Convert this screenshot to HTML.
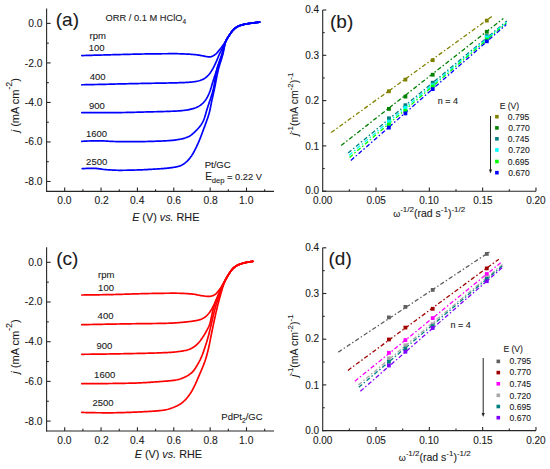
<!DOCTYPE html>
<html><head><meta charset="utf-8"><style>
html,body{margin:0;padding:0;background:#fff;overflow:hidden;width:550px;height:469px}
svg{display:block}
text{font-family:"Liberation Sans",sans-serif}
</style></head><body>
<svg width="550" height="469" viewBox="0 0 550 469">
<rect width="550" height="469" fill="#fff"/>
<line x1="46.60" y1="8.38" x2="46.60" y2="191.91" stroke="#262626" stroke-width="1.1" />
<line x1="46.05" y1="191.36" x2="274.00" y2="191.36" stroke="#262626" stroke-width="1.1" />
<line x1="46.60" y1="23.40" x2="50.60" y2="23.40" stroke="#262626" stroke-width="1.1" />
<line x1="46.60" y1="62.92" x2="50.60" y2="62.92" stroke="#262626" stroke-width="1.1" />
<line x1="46.60" y1="102.44" x2="50.60" y2="102.44" stroke="#262626" stroke-width="1.1" />
<line x1="46.60" y1="141.96" x2="50.60" y2="141.96" stroke="#262626" stroke-width="1.1" />
<line x1="46.60" y1="181.48" x2="50.60" y2="181.48" stroke="#262626" stroke-width="1.1" />
<line x1="46.60" y1="43.16" x2="48.80" y2="43.16" stroke="#262626" stroke-width="1.1" />
<line x1="46.60" y1="82.68" x2="48.80" y2="82.68" stroke="#262626" stroke-width="1.1" />
<line x1="46.60" y1="122.20" x2="48.80" y2="122.20" stroke="#262626" stroke-width="1.1" />
<line x1="46.60" y1="161.72" x2="48.80" y2="161.72" stroke="#262626" stroke-width="1.1" />
<line x1="64.70" y1="191.36" x2="64.70" y2="187.56" stroke="#262626" stroke-width="1.1" />
<line x1="101.06" y1="191.36" x2="101.06" y2="187.56" stroke="#262626" stroke-width="1.1" />
<line x1="137.42" y1="191.36" x2="137.42" y2="187.56" stroke="#262626" stroke-width="1.1" />
<line x1="173.78" y1="191.36" x2="173.78" y2="187.56" stroke="#262626" stroke-width="1.1" />
<line x1="210.14" y1="191.36" x2="210.14" y2="187.56" stroke="#262626" stroke-width="1.1" />
<line x1="246.50" y1="191.36" x2="246.50" y2="187.56" stroke="#262626" stroke-width="1.1" />
<line x1="82.88" y1="191.36" x2="82.88" y2="189.16" stroke="#262626" stroke-width="1.1" />
<line x1="119.24" y1="191.36" x2="119.24" y2="189.16" stroke="#262626" stroke-width="1.1" />
<line x1="155.60" y1="191.36" x2="155.60" y2="189.16" stroke="#262626" stroke-width="1.1" />
<line x1="191.96" y1="191.36" x2="191.96" y2="189.16" stroke="#262626" stroke-width="1.1" />
<line x1="228.32" y1="191.36" x2="228.32" y2="189.16" stroke="#262626" stroke-width="1.1" />
<line x1="264.68" y1="191.36" x2="264.68" y2="189.16" stroke="#262626" stroke-width="1.1" />
<path d="M81.80,55.58 L82.40,55.56 L83.17,55.54 L84.06,55.51 L85.02,55.48 L86.01,55.45 L87.01,55.42 L88.01,55.39 L89.02,55.37 L90.02,55.34 L91.02,55.31 L92.02,55.28 L93.02,55.25 L94.03,55.22 L95.03,55.20 L96.03,55.17 L97.03,55.14 L98.03,55.11 L99.04,55.09 L100.04,55.06 L101.04,55.03 L102.04,55.01 L103.04,54.98 L104.05,54.95 L105.05,54.93 L106.05,54.90 L107.05,54.87 L108.06,54.85 L109.06,54.82 L110.06,54.80 L111.06,54.77 L112.06,54.75 L113.07,54.72 L114.07,54.70 L115.07,54.67 L116.07,54.64 L117.07,54.62 L118.08,54.59 L119.08,54.56 L120.08,54.54 L121.08,54.51 L122.08,54.49 L123.09,54.46 L124.09,54.43 L125.09,54.41 L126.09,54.38 L127.10,54.36 L128.10,54.33 L129.10,54.31 L130.10,54.28 L131.10,54.26 L132.11,54.23 L133.11,54.21 L134.11,54.19 L135.11,54.16 L136.11,54.14 L137.12,54.12 L138.12,54.10 L139.12,54.08 L140.12,54.06 L141.13,54.04 L142.13,54.02 L143.13,54.00 L144.13,53.98 L145.14,53.97 L146.14,53.95 L147.14,53.94 L148.14,53.92 L149.14,53.91 L150.15,53.90 L151.15,53.89 L152.15,53.88 L153.15,53.86 L154.16,53.85 L155.16,53.84 L156.16,53.83 L157.16,53.82 L158.17,53.81 L159.17,53.80 L160.17,53.79 L161.17,53.78 L162.18,53.77 L163.18,53.76 L164.18,53.75 L165.18,53.74 L166.19,53.74 L167.19,53.73 L168.19,53.72 L169.19,53.72 L170.19,53.71 L171.20,53.71 L172.20,53.71 L173.20,53.70 L174.20,53.70 L175.21,53.71 L176.21,53.71 L177.21,53.72 L178.21,53.74 L179.22,53.76 L180.22,53.78 L181.22,53.81 L182.22,53.85 L183.22,53.89 L184.23,53.93 L185.23,53.98 L186.23,54.03 L187.23,54.08 L188.23,54.14 L189.23,54.20 L190.23,54.27 L191.23,54.33 L192.23,54.40 L193.23,54.48 L194.23,54.56 L195.23,54.66 L196.22,54.77 L197.21,54.90 L198.20,55.05 L199.19,55.21 L200.18,55.39 L201.16,55.58 L202.15,55.77 L203.13,55.95 L204.12,56.14 L205.10,56.32 L206.09,56.50 L207.07,56.66 L208.06,56.79 L209.04,56.85 L210.02,56.82 L210.98,56.67 L211.91,56.41 L212.81,56.04 L213.68,55.57 L214.51,55.03 L215.30,54.43 L216.05,53.78 L216.75,53.09 L217.43,52.35 L218.08,51.59 L218.72,50.82 L219.35,50.04 L219.98,49.26 L220.61,48.48 L221.22,47.69 L221.83,46.90 L222.43,46.09 L223.01,45.28 L223.58,44.45 L224.14,43.62 L224.69,42.78 L225.22,41.93 L225.75,41.08 L226.27,40.23 L226.79,39.37 L227.31,38.51 L227.82,37.65 L228.34,36.79 L228.87,35.94 L229.41,35.09 L229.96,34.25 L230.51,33.42 L231.09,32.60 L231.68,31.80 L232.31,31.02 L232.96,30.26 L233.65,29.54 L234.37,28.85 L235.13,28.21 L235.92,27.61 L236.76,27.07 L237.62,26.58 L238.52,26.15 L239.43,25.76 L240.37,25.41 L241.32,25.09 L242.28,24.82 L243.25,24.57 L244.22,24.34 L245.20,24.13 L246.19,23.94 L247.18,23.77 L248.16,23.61 L249.15,23.45 L250.15,23.30 L251.14,23.16 L252.13,23.03 L253.13,22.90 L254.12,22.77 L255.11,22.65 L256.10,22.54 L257.08,22.43 L258.00,22.34 L258.84,22.26 L259.53,22.19" fill="none" stroke="#0000FF" stroke-width="1.7" stroke-linejoin="round" stroke-linecap="round"/>
<path d="M81.80,84.78 L82.40,84.77 L83.17,84.76 L84.06,84.74 L85.02,84.72 L86.01,84.70 L87.01,84.68 L88.01,84.66 L89.01,84.64 L90.01,84.62 L91.01,84.60 L92.02,84.58 L93.02,84.56 L94.02,84.54 L95.02,84.52 L96.02,84.50 L97.02,84.48 L98.02,84.46 L99.02,84.43 L100.03,84.41 L101.03,84.39 L102.03,84.37 L103.03,84.34 L104.03,84.32 L105.03,84.30 L106.03,84.28 L107.03,84.25 L108.04,84.23 L109.04,84.20 L110.04,84.18 L111.04,84.15 L112.04,84.13 L113.04,84.10 L114.04,84.07 L115.04,84.05 L116.05,84.02 L117.05,84.00 L118.05,83.97 L119.05,83.94 L120.05,83.92 L121.05,83.89 L122.05,83.87 L123.05,83.85 L124.06,83.82 L125.06,83.80 L126.06,83.78 L127.06,83.76 L128.06,83.73 L129.06,83.71 L130.06,83.69 L131.07,83.67 L132.07,83.65 L133.07,83.63 L134.07,83.61 L135.07,83.59 L136.07,83.57 L137.07,83.55 L138.07,83.53 L139.08,83.51 L140.08,83.49 L141.08,83.47 L142.08,83.45 L143.08,83.43 L144.08,83.41 L145.08,83.39 L146.09,83.37 L147.09,83.35 L148.09,83.34 L149.09,83.32 L150.09,83.30 L151.09,83.28 L152.09,83.26 L153.10,83.25 L154.10,83.23 L155.10,83.21 L156.10,83.19 L157.10,83.18 L158.10,83.16 L159.10,83.15 L160.11,83.13 L161.11,83.11 L162.11,83.10 L163.11,83.08 L164.11,83.06 L165.11,83.04 L166.11,83.03 L167.12,83.01 L168.12,82.99 L169.12,82.97 L170.12,82.95 L171.12,82.93 L172.12,82.91 L173.12,82.89 L174.12,82.86 L175.13,82.84 L176.13,82.81 L177.13,82.79 L178.13,82.76 L179.13,82.72 L180.13,82.69 L181.13,82.65 L182.13,82.62 L183.13,82.57 L184.13,82.53 L185.13,82.48 L186.13,82.43 L187.13,82.37 L188.13,82.31 L189.13,82.24 L190.13,82.17 L191.13,82.08 L192.13,81.98 L193.12,81.87 L194.11,81.74 L195.10,81.59 L196.09,81.42 L197.07,81.22 L198.04,81.00 L199.01,80.75 L199.97,80.47 L200.92,80.16 L201.85,79.80 L202.76,79.40 L203.64,78.95 L204.50,78.44 L205.33,77.89 L206.12,77.29 L206.87,76.64 L207.59,75.95 L208.28,75.23 L208.94,74.48 L209.57,73.71 L210.18,72.91 L210.76,72.10 L211.32,71.27 L211.85,70.42 L212.37,69.56 L212.86,68.69 L213.33,67.81 L213.79,66.92 L214.23,66.03 L214.67,65.12 L215.09,64.21 L215.51,63.30 L215.92,62.39 L216.32,61.47 L216.72,60.56 L217.12,59.64 L217.51,58.71 L217.90,57.79 L218.28,56.87 L218.67,55.94 L219.06,55.02 L219.46,54.11 L219.89,53.20 L220.33,52.31 L220.80,51.42 L221.28,50.54 L221.76,49.67 L222.23,48.78 L222.68,47.89 L223.11,46.99 L223.53,46.08 L223.93,45.16 L224.33,44.24 L224.74,43.33 L225.16,42.42 L225.60,41.52 L226.06,40.63 L226.54,39.75 L227.04,38.89 L227.55,38.03 L228.07,37.17 L228.61,36.33 L229.15,35.48 L229.69,34.64 L230.25,33.81 L230.81,32.99 L231.40,32.18 L232.01,31.38 L232.65,30.62 L233.32,29.88 L234.02,29.17 L234.76,28.51 L235.54,27.89 L236.35,27.32 L237.20,26.81 L238.08,26.35 L238.99,25.94 L239.92,25.57 L240.86,25.24 L241.81,24.95 L242.78,24.68 L243.75,24.45 L244.73,24.23 L245.71,24.04 L246.69,23.85 L247.68,23.68 L248.67,23.53 L249.66,23.37 L250.65,23.23 L251.64,23.09 L252.64,22.96 L253.63,22.83 L254.62,22.71 L255.61,22.59 L256.60,22.48 L257.55,22.38 L258.44,22.29 L259.21,22.22 L259.81,22.17" fill="none" stroke="#0000FF" stroke-width="1.7" stroke-linejoin="round" stroke-linecap="round"/>
<path d="M81.80,112.60 L82.40,112.60 L83.17,112.60 L84.06,112.60 L85.02,112.60 L86.01,112.60 L87.01,112.60 L88.01,112.60 L89.02,112.60 L90.02,112.60 L91.02,112.60 L92.02,112.60 L93.02,112.60 L94.03,112.60 L95.03,112.60 L96.03,112.60 L97.03,112.60 L98.03,112.60 L99.04,112.60 L100.04,112.60 L101.04,112.60 L102.04,112.60 L103.04,112.60 L104.05,112.60 L105.05,112.60 L106.05,112.60 L107.05,112.60 L108.05,112.60 L109.06,112.60 L110.06,112.60 L111.06,112.60 L112.06,112.60 L113.06,112.60 L114.07,112.60 L115.07,112.59 L116.07,112.59 L117.07,112.58 L118.07,112.58 L119.08,112.57 L120.08,112.56 L121.08,112.55 L122.08,112.53 L123.08,112.52 L124.09,112.50 L125.09,112.48 L126.09,112.47 L127.09,112.45 L128.09,112.43 L129.09,112.40 L130.10,112.38 L131.10,112.36 L132.10,112.34 L133.10,112.31 L134.10,112.29 L135.11,112.26 L136.11,112.24 L137.11,112.21 L138.11,112.18 L139.11,112.16 L140.11,112.13 L141.11,112.10 L142.12,112.08 L143.12,112.05 L144.12,112.02 L145.12,112.00 L146.12,111.97 L147.12,111.95 L148.13,111.92 L149.13,111.90 L150.13,111.87 L151.13,111.85 L152.13,111.82 L153.14,111.80 L154.14,111.77 L155.14,111.75 L156.14,111.73 L157.14,111.70 L158.14,111.68 L159.15,111.65 L160.15,111.63 L161.15,111.60 L162.15,111.57 L163.15,111.54 L164.15,111.51 L165.16,111.48 L166.16,111.45 L167.16,111.42 L168.16,111.38 L169.16,111.35 L170.16,111.31 L171.16,111.27 L172.16,111.23 L173.17,111.19 L174.17,111.15 L175.17,111.10 L176.17,111.05 L177.17,111.00 L178.17,110.94 L179.17,110.87 L180.17,110.79 L181.17,110.71 L182.16,110.62 L183.16,110.52 L184.16,110.40 L185.15,110.28 L186.14,110.14 L187.13,109.99 L188.12,109.81 L189.10,109.62 L190.08,109.41 L191.05,109.18 L192.02,108.93 L192.98,108.66 L193.94,108.36 L194.89,108.04 L195.82,107.68 L196.74,107.29 L197.64,106.86 L198.52,106.39 L199.38,105.89 L200.22,105.34 L201.03,104.76 L201.81,104.14 L202.56,103.48 L203.27,102.79 L203.95,102.06 L204.59,101.29 L205.20,100.50 L205.78,99.69 L206.32,98.85 L206.84,98.00 L207.34,97.13 L207.81,96.24 L208.25,95.34 L208.67,94.44 L209.07,93.52 L209.44,92.59 L209.81,91.66 L210.15,90.72 L210.47,89.77 L210.77,88.81 L211.07,87.86 L211.35,86.89 L211.62,85.93 L211.89,84.97 L212.17,84.00 L212.46,83.04 L212.75,82.09 L213.05,81.13 L213.36,80.18 L213.67,79.23 L213.99,78.28 L214.31,77.33 L214.63,76.38 L214.95,75.43 L215.27,74.48 L215.59,73.53 L215.90,72.58 L216.22,71.62 L216.53,70.67 L216.85,69.72 L217.16,68.77 L217.48,67.82 L217.80,66.87 L218.11,65.92 L218.43,64.97 L218.75,64.02 L219.08,63.07 L219.41,62.13 L219.74,61.18 L220.08,60.24 L220.43,59.30 L220.77,58.36 L221.11,57.42 L221.45,56.47 L221.79,55.53 L222.11,54.58 L222.42,53.63 L222.72,52.67 L223.00,51.71 L223.26,50.74 L223.51,49.77 L223.74,48.80 L223.97,47.82 L224.20,46.85 L224.43,45.87 L224.66,44.90 L224.92,43.93 L225.20,42.97 L225.51,42.03 L225.87,41.10 L226.28,40.19 L226.74,39.30 L227.23,38.43 L227.75,37.58 L228.30,36.74 L228.85,35.90 L229.40,35.07 L229.96,34.24 L230.52,33.41 L231.09,32.59 L231.69,31.79 L232.31,31.01 L232.97,30.25 L233.66,29.53 L234.38,28.84 L235.14,28.20 L235.93,27.61 L236.76,27.07 L237.63,26.58 L238.53,26.14 L239.44,25.75 L240.38,25.40 L241.33,25.09 L242.29,24.81 L243.26,24.56 L244.23,24.34 L245.21,24.13 L246.19,23.94 L247.18,23.77 L248.17,23.60 L249.16,23.45 L250.15,23.30 L251.14,23.16 L252.13,23.03 L253.13,22.90 L254.12,22.77 L255.12,22.65 L256.10,22.54 L257.08,22.43 L258.01,22.34 L258.84,22.26 L259.53,22.19" fill="none" stroke="#0000FF" stroke-width="1.7" stroke-linejoin="round" stroke-linecap="round"/>
<path d="M81.80,141.35 L82.39,141.31 L83.16,141.27 L84.06,141.22 L85.01,141.16 L86.00,141.11 L87.00,141.07 L88.00,141.02 L89.00,140.98 L90.00,140.95 L91.00,140.92 L92.00,140.89 L93.00,140.87 L94.00,140.85 L95.00,140.83 L96.00,140.82 L97.00,140.81 L98.00,140.81 L99.00,140.82 L100.01,140.83 L101.01,140.85 L102.01,140.88 L103.01,140.92 L104.01,140.96 L105.01,141.01 L106.01,141.06 L107.01,141.11 L108.01,141.17 L109.00,141.23 L110.00,141.28 L111.00,141.34 L112.00,141.39 L113.00,141.44 L114.00,141.48 L115.00,141.52 L116.00,141.55 L117.00,141.57 L118.01,141.58 L119.01,141.59 L120.01,141.60 L121.01,141.60 L122.01,141.60 L123.01,141.60 L124.01,141.60 L125.01,141.60 L126.01,141.60 L127.01,141.60 L128.02,141.60 L129.02,141.60 L130.02,141.60 L131.02,141.60 L132.02,141.60 L133.02,141.60 L134.02,141.60 L135.02,141.60 L136.02,141.60 L137.02,141.60 L138.03,141.60 L139.03,141.60 L140.03,141.59 L141.03,141.59 L142.03,141.58 L143.03,141.57 L144.03,141.55 L145.03,141.54 L146.03,141.52 L147.03,141.49 L148.03,141.47 L149.03,141.44 L150.04,141.42 L151.04,141.39 L152.04,141.36 L153.04,141.32 L154.04,141.29 L155.04,141.26 L156.04,141.22 L157.04,141.19 L158.04,141.15 L159.04,141.11 L160.04,141.08 L161.04,141.04 L162.04,141.00 L163.04,140.95 L164.04,140.91 L165.04,140.86 L166.04,140.80 L167.04,140.74 L168.04,140.68 L169.04,140.61 L170.03,140.54 L171.03,140.46 L172.03,140.38 L173.03,140.28 L174.02,140.17 L175.01,140.04 L176.00,139.91 L176.99,139.76 L177.98,139.60 L178.97,139.43 L179.95,139.24 L180.93,139.04 L181.91,138.82 L182.88,138.59 L183.85,138.33 L184.81,138.06 L185.76,137.75 L186.70,137.42 L187.63,137.05 L188.53,136.64 L189.41,136.18 L190.26,135.66 L191.08,135.10 L191.87,134.49 L192.64,133.86 L193.39,133.20 L194.13,132.53 L194.87,131.85 L195.59,131.16 L196.30,130.46 L197.00,129.74 L197.68,129.01 L198.35,128.26 L199.00,127.50 L199.63,126.72 L200.24,125.93 L200.83,125.13 L201.39,124.30 L201.93,123.46 L202.43,122.60 L202.90,121.71 L203.33,120.82 L203.72,119.90 L204.09,118.97 L204.42,118.03 L204.73,117.08 L205.03,116.12 L205.31,115.16 L205.59,114.20 L205.87,113.24 L206.14,112.28 L206.42,111.31 L206.71,110.36 L207.00,109.40 L207.30,108.44 L207.60,107.49 L207.91,106.54 L208.23,105.59 L208.54,104.64 L208.86,103.69 L209.18,102.74 L209.49,101.79 L209.81,100.84 L210.12,99.89 L210.43,98.94 L210.74,97.99 L211.06,97.03 L211.37,96.08 L211.67,95.13 L211.98,94.18 L212.27,93.22 L212.56,92.26 L212.82,91.30 L213.08,90.33 L213.31,89.36 L213.52,88.38 L213.72,87.40 L213.91,86.41 L214.09,85.43 L214.26,84.44 L214.42,83.46 L214.58,82.47 L214.73,81.48 L214.89,80.49 L215.04,79.50 L215.20,78.51 L215.35,77.52 L215.51,76.53 L215.67,75.55 L215.84,74.56 L216.01,73.57 L216.20,72.59 L216.39,71.61 L216.60,70.63 L216.83,69.66 L217.07,68.68 L217.32,67.72 L217.60,66.75 L217.88,65.80 L218.18,64.84 L218.49,63.89 L218.82,62.94 L219.15,62.00 L219.48,61.06 L219.83,60.12 L220.17,59.17 L220.51,58.23 L220.85,57.29 L221.17,56.34 L221.49,55.40 L221.79,54.44 L222.09,53.49 L222.37,52.53 L222.64,51.56 L222.91,50.60 L223.17,49.63 L223.42,48.66 L223.68,47.70 L223.95,46.73 L224.22,45.77 L224.50,44.81 L224.80,43.85 L225.12,42.91 L225.48,41.98 L225.87,41.06 L226.30,40.16 L226.77,39.28 L227.27,38.41 L227.79,37.56 L228.33,36.72 L228.87,35.88 L229.42,35.04 L229.98,34.21 L230.54,33.38 L231.11,32.56 L231.71,31.76 L232.33,30.98 L232.99,30.23 L233.67,29.51 L234.40,28.83 L235.16,28.19 L235.95,27.59 L236.79,27.05 L237.65,26.57 L238.55,26.13 L239.46,25.74 L240.40,25.40 L241.35,25.09 L242.31,24.81 L243.27,24.56 L244.25,24.33 L245.23,24.13 L246.21,23.94 L247.19,23.77 L248.18,23.60 L249.17,23.45 L250.16,23.30 L251.15,23.16 L252.14,23.02 L253.14,22.89 L254.13,22.77 L255.12,22.65 L256.11,22.54 L257.08,22.43 L258.01,22.34 L258.84,22.26 L259.53,22.19" fill="none" stroke="#0000FF" stroke-width="1.7" stroke-linejoin="round" stroke-linecap="round"/>
<path d="M82.19,168.72 L82.79,168.67 L83.56,168.61 L84.45,168.55 L85.41,168.49 L86.39,168.44 L87.39,168.40 L88.39,168.37 L89.39,168.34 L90.39,168.33 L91.39,168.32 L92.40,168.31 L93.40,168.32 L94.40,168.34 L95.39,168.39 L96.39,168.45 L97.39,168.55 L98.38,168.66 L99.37,168.80 L100.36,168.94 L101.35,169.08 L102.34,169.22 L103.34,169.36 L104.33,169.47 L105.33,169.57 L106.32,169.66 L107.32,169.74 L108.32,169.82 L109.32,169.89 L110.32,169.95 L111.32,170.02 L112.32,170.08 L113.31,170.13 L114.31,170.17 L115.31,170.21 L116.32,170.24 L117.32,170.27 L118.32,170.28 L119.32,170.29 L120.32,170.29 L121.32,170.29 L122.32,170.28 L123.32,170.27 L124.32,170.26 L125.32,170.24 L126.33,170.23 L127.33,170.21 L128.33,170.19 L129.33,170.17 L130.33,170.15 L131.33,170.12 L132.33,170.10 L133.33,170.07 L134.33,170.04 L135.33,170.02 L136.33,169.99 L137.33,169.96 L138.34,169.93 L139.34,169.90 L140.34,169.86 L141.34,169.83 L142.34,169.78 L143.34,169.74 L144.34,169.69 L145.34,169.64 L146.34,169.59 L147.34,169.53 L148.34,169.47 L149.34,169.41 L150.34,169.36 L151.33,169.30 L152.33,169.24 L153.33,169.18 L154.33,169.12 L155.33,169.07 L156.33,169.01 L157.33,168.95 L158.33,168.89 L159.33,168.83 L160.33,168.76 L161.33,168.69 L162.33,168.62 L163.32,168.54 L164.32,168.46 L165.32,168.37 L166.32,168.28 L167.31,168.17 L168.31,168.06 L169.30,167.94 L170.29,167.82 L171.29,167.69 L172.28,167.55 L173.27,167.40 L174.25,167.24 L175.24,167.07 L176.22,166.88 L177.20,166.67 L178.17,166.43 L179.13,166.16 L180.07,165.84 L180.99,165.46 L181.88,165.03 L182.75,164.54 L183.59,164.01 L184.41,163.44 L185.21,162.84 L185.98,162.21 L186.72,161.54 L187.45,160.85 L188.14,160.14 L188.81,159.40 L189.46,158.64 L190.09,157.86 L190.69,157.06 L191.27,156.25 L191.83,155.42 L192.36,154.57 L192.87,153.71 L193.37,152.84 L193.85,151.97 L194.32,151.08 L194.78,150.19 L195.23,149.30 L195.68,148.41 L196.12,147.51 L196.56,146.61 L196.98,145.70 L197.40,144.79 L197.82,143.88 L198.22,142.97 L198.62,142.05 L199.02,141.13 L199.40,140.21 L199.79,139.28 L200.16,138.35 L200.53,137.42 L200.89,136.49 L201.25,135.55 L201.60,134.62 L201.95,133.68 L202.29,132.74 L202.64,131.80 L202.99,130.86 L203.34,129.92 L203.69,128.98 L204.04,128.05 L204.39,127.11 L204.74,126.17 L205.09,125.23 L205.44,124.29 L205.79,123.35 L206.13,122.41 L206.46,121.47 L206.80,120.53 L207.13,119.58 L207.45,118.64 L207.78,117.69 L208.09,116.74 L208.39,115.78 L208.69,114.83 L208.97,113.87 L209.23,112.90 L209.48,111.93 L209.72,110.96 L209.94,109.98 L210.15,109.00 L210.35,108.02 L210.54,107.04 L210.74,106.06 L210.93,105.08 L211.12,104.09 L211.32,103.11 L211.52,102.13 L211.72,101.15 L211.93,100.17 L212.14,99.19 L212.36,98.22 L212.58,97.24 L212.80,96.26 L213.02,95.29 L213.24,94.31 L213.46,93.33 L213.68,92.36 L213.89,91.38 L214.11,90.40 L214.31,89.42 L214.52,88.44 L214.71,87.46 L214.91,86.48 L215.10,85.50 L215.29,84.51 L215.48,83.53 L215.67,82.55 L215.85,81.56 L216.04,80.58 L216.23,79.59 L216.41,78.61 L216.60,77.63 L216.79,76.65 L216.99,75.66 L217.19,74.68 L217.39,73.70 L217.60,72.72 L217.82,71.75 L218.04,70.77 L218.28,69.80 L218.52,68.83 L218.78,67.86 L219.05,66.90 L219.32,65.93 L219.61,64.98 L219.91,64.02 L220.21,63.06 L220.52,62.11 L220.83,61.16 L221.13,60.21 L221.43,59.25 L221.73,58.29 L222.02,57.34 L222.29,56.37 L222.55,55.41 L222.80,54.44 L223.04,53.47 L223.26,52.49 L223.47,51.51 L223.67,50.53 L223.86,49.55 L224.04,48.56 L224.23,47.58 L224.42,46.60 L224.62,45.62 L224.83,44.64 L225.07,43.67 L225.33,42.71 L225.64,41.76 L225.99,40.83 L226.40,39.93 L226.86,39.04 L227.36,38.18 L227.89,37.34 L228.44,36.50 L229.00,35.67 L229.55,34.83 L230.11,34.00 L230.68,33.18 L231.26,32.37 L231.86,31.57 L232.49,30.80 L233.15,30.05 L233.85,29.34 L234.58,28.66 L235.35,28.03 L236.15,27.46 L237.00,26.93 L237.87,26.46 L238.77,26.03 L239.69,25.65 L240.63,25.32 L241.58,25.01 L242.54,24.74 L243.51,24.50 L244.49,24.28 L245.47,24.08 L246.45,23.90 L247.44,23.72 L248.43,23.56 L249.42,23.41 L250.41,23.27 L251.40,23.13 L252.39,22.99 L253.38,22.86 L254.38,22.74 L255.37,22.62 L256.35,22.51 L257.32,22.41 L258.23,22.32 L259.03,22.24 L259.67,22.18" fill="none" stroke="#0000FF" stroke-width="1.7" stroke-linejoin="round" stroke-linecap="round"/>
<line x1="46.60" y1="247.21" x2="46.60" y2="431.58" stroke="#262626" stroke-width="1.1" />
<line x1="46.05" y1="431.03" x2="274.00" y2="431.03" stroke="#262626" stroke-width="1.1" />
<line x1="46.60" y1="262.30" x2="50.60" y2="262.30" stroke="#262626" stroke-width="1.1" />
<line x1="46.60" y1="302.00" x2="50.60" y2="302.00" stroke="#262626" stroke-width="1.1" />
<line x1="46.60" y1="341.70" x2="50.60" y2="341.70" stroke="#262626" stroke-width="1.1" />
<line x1="46.60" y1="381.40" x2="50.60" y2="381.40" stroke="#262626" stroke-width="1.1" />
<line x1="46.60" y1="421.10" x2="50.60" y2="421.10" stroke="#262626" stroke-width="1.1" />
<line x1="46.60" y1="282.15" x2="48.80" y2="282.15" stroke="#262626" stroke-width="1.1" />
<line x1="46.60" y1="321.85" x2="48.80" y2="321.85" stroke="#262626" stroke-width="1.1" />
<line x1="46.60" y1="361.55" x2="48.80" y2="361.55" stroke="#262626" stroke-width="1.1" />
<line x1="46.60" y1="401.25" x2="48.80" y2="401.25" stroke="#262626" stroke-width="1.1" />
<line x1="64.70" y1="431.03" x2="64.70" y2="427.23" stroke="#262626" stroke-width="1.1" />
<line x1="101.06" y1="431.03" x2="101.06" y2="427.23" stroke="#262626" stroke-width="1.1" />
<line x1="137.42" y1="431.03" x2="137.42" y2="427.23" stroke="#262626" stroke-width="1.1" />
<line x1="173.78" y1="431.03" x2="173.78" y2="427.23" stroke="#262626" stroke-width="1.1" />
<line x1="210.14" y1="431.03" x2="210.14" y2="427.23" stroke="#262626" stroke-width="1.1" />
<line x1="246.50" y1="431.03" x2="246.50" y2="427.23" stroke="#262626" stroke-width="1.1" />
<line x1="82.88" y1="431.03" x2="82.88" y2="428.83" stroke="#262626" stroke-width="1.1" />
<line x1="119.24" y1="431.03" x2="119.24" y2="428.83" stroke="#262626" stroke-width="1.1" />
<line x1="155.60" y1="431.03" x2="155.60" y2="428.83" stroke="#262626" stroke-width="1.1" />
<line x1="191.96" y1="431.03" x2="191.96" y2="428.83" stroke="#262626" stroke-width="1.1" />
<line x1="228.32" y1="431.03" x2="228.32" y2="428.83" stroke="#262626" stroke-width="1.1" />
<line x1="264.68" y1="431.03" x2="264.68" y2="428.83" stroke="#262626" stroke-width="1.1" />
<path d="M81.80,294.99 L82.40,294.99 L83.17,294.98 L84.06,294.97 L85.02,294.96 L86.01,294.95 L87.01,294.94 L88.01,294.93 L89.02,294.92 L90.02,294.91 L91.02,294.90 L92.02,294.88 L93.02,294.87 L94.03,294.86 L95.03,294.84 L96.03,294.83 L97.03,294.81 L98.03,294.80 L99.04,294.78 L100.04,294.77 L101.04,294.75 L102.04,294.74 L103.04,294.72 L104.04,294.70 L105.05,294.69 L106.05,294.67 L107.05,294.65 L108.05,294.63 L109.05,294.62 L110.06,294.60 L111.06,294.58 L112.06,294.56 L113.06,294.54 L114.06,294.51 L115.06,294.49 L116.07,294.46 L117.07,294.44 L118.07,294.41 L119.07,294.38 L120.07,294.35 L121.07,294.32 L122.08,294.29 L123.08,294.26 L124.08,294.23 L125.08,294.20 L126.08,294.17 L127.08,294.14 L128.09,294.10 L129.09,294.07 L130.09,294.04 L131.09,294.01 L132.09,293.97 L133.09,293.94 L134.09,293.91 L135.10,293.88 L136.10,293.85 L137.10,293.82 L138.10,293.79 L139.10,293.76 L140.10,293.73 L141.11,293.70 L142.11,293.67 L143.11,293.65 L144.11,293.62 L145.11,293.60 L146.11,293.58 L147.12,293.56 L148.12,293.54 L149.12,293.52 L150.12,293.50 L151.12,293.48 L152.13,293.46 L153.13,293.45 L154.13,293.43 L155.13,293.41 L156.13,293.40 L157.13,293.38 L158.14,293.37 L159.14,293.35 L160.14,293.33 L161.14,293.32 L162.14,293.31 L163.15,293.29 L164.15,293.28 L165.15,293.27 L166.15,293.26 L167.15,293.24 L168.16,293.24 L169.16,293.23 L170.16,293.22 L171.16,293.21 L172.16,293.21 L173.17,293.21 L174.17,293.21 L175.17,293.21 L176.17,293.21 L177.17,293.23 L178.18,293.24 L179.18,293.26 L180.18,293.29 L181.18,293.33 L182.18,293.37 L183.18,293.41 L184.18,293.46 L185.18,293.51 L186.18,293.58 L187.18,293.64 L188.18,293.71 L189.18,293.78 L190.18,293.86 L191.18,293.95 L192.18,294.04 L193.17,294.15 L194.17,294.27 L195.15,294.42 L196.14,294.60 L197.11,294.80 L198.09,295.02 L199.07,295.24 L200.05,295.44 L201.03,295.61 L202.02,295.77 L203.01,295.91 L204.01,296.03 L205.00,296.15 L206.00,296.24 L206.99,296.32 L207.99,296.37 L208.99,296.38 L209.98,296.33 L210.95,296.20 L211.91,295.98 L212.84,295.67 L213.74,295.27 L214.60,294.79 L215.41,294.23 L216.16,293.60 L216.87,292.91 L217.52,292.17 L218.14,291.39 L218.74,290.59 L219.33,289.77 L219.90,288.95 L220.47,288.13 L221.02,287.29 L221.57,286.45 L222.10,285.60 L222.62,284.75 L223.14,283.89 L223.64,283.02 L224.14,282.15 L224.63,281.28 L225.13,280.41 L225.62,279.54 L226.12,278.67 L226.62,277.80 L227.12,276.93 L227.63,276.07 L228.14,275.21 L228.67,274.36 L229.20,273.51 L229.75,272.67 L230.31,271.84 L230.89,271.03 L231.49,270.23 L232.11,269.45 L232.78,268.71 L233.49,268.02 L234.24,267.36 L235.03,266.76 L235.85,266.20 L236.71,265.69 L237.59,265.22 L238.49,264.80 L239.41,264.41 L240.34,264.05 L241.29,263.72 L242.24,263.42 L243.21,263.15 L244.17,262.89 L245.15,262.66 L246.13,262.45 L247.11,262.25 L248.09,262.07 L249.08,261.90 L250.05,261.75 L250.99,261.62 L251.85,261.51 L252.58,261.42" fill="none" stroke="#FF0000" stroke-width="1.7" stroke-linejoin="round" stroke-linecap="round"/>
<path d="M81.80,324.68 L82.40,324.67 L83.17,324.66 L84.06,324.64 L85.02,324.62 L86.01,324.60 L87.01,324.58 L88.01,324.56 L89.01,324.54 L90.01,324.52 L91.01,324.50 L92.01,324.48 L93.01,324.46 L94.01,324.44 L95.02,324.42 L96.02,324.40 L97.02,324.39 L98.02,324.37 L99.02,324.35 L100.02,324.33 L101.02,324.31 L102.02,324.29 L103.03,324.27 L104.03,324.25 L105.03,324.24 L106.03,324.22 L107.03,324.20 L108.03,324.18 L109.03,324.16 L110.03,324.14 L111.03,324.13 L112.04,324.11 L113.04,324.09 L114.04,324.07 L115.04,324.06 L116.04,324.04 L117.04,324.02 L118.04,324.00 L119.04,323.99 L120.04,323.97 L121.05,323.95 L122.05,323.93 L123.05,323.92 L124.05,323.90 L125.05,323.88 L126.05,323.87 L127.05,323.85 L128.05,323.83 L129.06,323.82 L130.06,323.80 L131.06,323.78 L132.06,323.77 L133.06,323.75 L134.06,323.74 L135.06,323.73 L136.06,323.71 L137.07,323.70 L138.07,323.69 L139.07,323.68 L140.07,323.67 L141.07,323.66 L142.07,323.64 L143.07,323.63 L144.07,323.62 L145.08,323.61 L146.08,323.60 L147.08,323.59 L148.08,323.58 L149.08,323.57 L150.08,323.56 L151.08,323.55 L152.08,323.53 L153.09,323.52 L154.09,323.51 L155.09,323.50 L156.09,323.48 L157.09,323.47 L158.09,323.45 L159.09,323.44 L160.09,323.42 L161.10,323.40 L162.10,323.38 L163.10,323.36 L164.10,323.34 L165.10,323.32 L166.10,323.30 L167.10,323.27 L168.10,323.25 L169.10,323.22 L170.10,323.18 L171.10,323.14 L172.10,323.09 L173.10,323.04 L174.10,322.97 L175.10,322.90 L176.10,322.82 L177.10,322.74 L178.10,322.66 L179.09,322.58 L180.09,322.49 L181.09,322.40 L182.09,322.32 L183.08,322.23 L184.08,322.13 L185.08,322.04 L186.07,321.94 L187.07,321.83 L188.07,321.72 L189.06,321.60 L190.05,321.48 L191.05,321.36 L192.04,321.22 L193.03,321.08 L194.02,320.93 L195.01,320.78 L195.99,320.60 L196.98,320.41 L197.95,320.20 L198.92,319.96 L199.88,319.68 L200.82,319.36 L201.74,318.99 L202.64,318.56 L203.51,318.08 L204.35,317.55 L205.17,316.97 L205.95,316.36 L206.69,315.70 L207.40,315.00 L208.07,314.26 L208.70,313.49 L209.31,312.70 L209.90,311.89 L210.47,311.07 L211.02,310.23 L211.54,309.38 L212.05,308.52 L212.54,307.65 L213.01,306.76 L213.46,305.87 L213.90,304.97 L214.31,304.06 L214.72,303.14 L215.11,302.22 L215.51,301.31 L215.92,300.39 L216.33,299.48 L216.76,298.57 L217.19,297.67 L217.63,296.77 L218.06,295.87 L218.49,294.96 L218.90,294.05 L219.31,293.14 L219.72,292.22 L220.12,291.31 L220.53,290.39 L220.93,289.48 L221.34,288.56 L221.76,287.65 L222.17,286.74 L222.59,285.83 L223.01,284.92 L223.44,284.02 L223.87,283.11 L224.30,282.21 L224.75,281.31 L225.20,280.42 L225.66,279.53 L226.13,278.65 L226.62,277.77 L227.11,276.90 L227.62,276.04 L228.14,275.18 L228.66,274.33 L229.20,273.49 L229.76,272.65 L230.32,271.83 L230.90,271.01 L231.50,270.21 L232.13,269.44 L232.79,268.70 L233.50,268.00 L234.25,267.35 L235.04,266.75 L235.86,266.20 L236.72,265.68 L237.60,265.22 L238.50,264.79 L239.42,264.40 L240.35,264.05 L241.30,263.72 L242.25,263.42 L243.21,263.14 L244.18,262.89 L245.15,262.66 L246.13,262.45 L247.11,262.25 L248.10,262.07 L249.08,261.90 L250.05,261.75 L250.99,261.62 L251.85,261.51 L252.58,261.42" fill="none" stroke="#FF0000" stroke-width="1.7" stroke-linejoin="round" stroke-linecap="round"/>
<path d="M81.80,354.30 L82.40,354.29 L83.17,354.29 L84.06,354.28 L85.02,354.27 L86.01,354.26 L87.01,354.26 L88.01,354.25 L89.01,354.24 L90.02,354.23 L91.02,354.22 L92.02,354.21 L93.02,354.20 L94.02,354.19 L95.02,354.18 L96.02,354.16 L97.03,354.15 L98.03,354.14 L99.03,354.13 L100.03,354.11 L101.03,354.10 L102.03,354.09 L103.04,354.07 L104.04,354.06 L105.04,354.04 L106.04,354.03 L107.04,354.01 L108.04,354.00 L109.05,353.98 L110.05,353.96 L111.05,353.95 L112.05,353.93 L113.05,353.91 L114.05,353.90 L115.05,353.88 L116.06,353.86 L117.06,353.84 L118.06,353.83 L119.06,353.81 L120.06,353.79 L121.06,353.77 L122.07,353.75 L123.07,353.73 L124.07,353.71 L125.07,353.70 L126.07,353.68 L127.07,353.66 L128.07,353.64 L129.08,353.62 L130.08,353.60 L131.08,353.58 L132.08,353.56 L133.08,353.54 L134.08,353.52 L135.09,353.50 L136.09,353.48 L137.09,353.46 L138.09,353.44 L139.09,353.42 L140.09,353.40 L141.09,353.38 L142.10,353.36 L143.10,353.33 L144.10,353.31 L145.10,353.29 L146.10,353.26 L147.10,353.24 L148.10,353.21 L149.11,353.19 L150.11,353.16 L151.11,353.13 L152.11,353.11 L153.11,353.08 L154.11,353.05 L155.11,353.01 L156.11,352.98 L157.12,352.95 L158.12,352.91 L159.12,352.88 L160.12,352.84 L161.12,352.80 L162.12,352.76 L163.12,352.72 L164.12,352.68 L165.12,352.63 L166.12,352.59 L167.12,352.54 L168.12,352.49 L169.12,352.44 L170.12,352.38 L171.12,352.32 L172.12,352.25 L173.12,352.17 L174.12,352.09 L175.12,351.99 L176.11,351.89 L177.11,351.78 L178.10,351.66 L179.10,351.53 L180.09,351.39 L181.08,351.25 L182.07,351.09 L183.06,350.92 L184.04,350.74 L185.02,350.54 L186.00,350.32 L186.96,350.07 L187.92,349.78 L188.87,349.46 L189.80,349.10 L190.72,348.71 L191.61,348.28 L192.49,347.80 L193.34,347.28 L194.16,346.72 L194.96,346.13 L195.74,345.50 L196.49,344.84 L197.23,344.16 L197.93,343.46 L198.62,342.73 L199.27,341.97 L199.90,341.20 L200.51,340.40 L201.10,339.59 L201.68,338.78 L202.24,337.95 L202.80,337.12 L203.35,336.28 L203.88,335.43 L204.41,334.58 L204.92,333.72 L205.43,332.86 L205.92,331.99 L206.41,331.11 L206.89,330.23 L207.37,329.35 L207.83,328.46 L208.28,327.57 L208.71,326.67 L209.10,325.75 L209.46,324.82 L209.78,323.87 L210.07,322.92 L210.33,321.95 L210.57,320.98 L210.79,320.00 L211.00,319.02 L211.21,318.04 L211.41,317.06 L211.61,316.08 L211.81,315.10 L212.02,314.12 L212.23,313.14 L212.44,312.16 L212.67,311.19 L212.91,310.21 L213.16,309.24 L213.43,308.28 L213.71,307.32 L214.01,306.36 L214.32,305.41 L214.64,304.46 L214.97,303.52 L215.30,302.57 L215.65,301.63 L216.00,300.70 L216.36,299.76 L216.73,298.83 L217.10,297.90 L217.47,296.97 L217.85,296.04 L218.22,295.11 L218.60,294.18 L218.98,293.25 L219.35,292.33 L219.73,291.40 L220.12,290.47 L220.50,289.55 L220.90,288.63 L221.30,287.71 L221.72,286.80 L222.15,285.90 L222.59,285.00 L223.05,284.11 L223.52,283.23 L224.01,282.35 L224.50,281.48 L225.00,280.61 L225.50,279.74 L226.00,278.87 L226.50,278.01 L227.00,277.14 L227.50,276.27 L228.02,275.41 L228.54,274.56 L229.07,273.71 L229.62,272.87 L230.17,272.04 L230.75,271.22 L231.34,270.42 L231.96,269.64 L232.62,268.89 L233.31,268.18 L234.05,267.52 L234.83,266.90 L235.65,266.33 L236.50,265.81 L237.37,265.33 L238.27,264.90 L239.18,264.50 L240.11,264.14 L241.06,263.80 L242.01,263.49 L242.97,263.21 L243.94,262.95 L244.91,262.72 L245.88,262.50 L246.87,262.30 L247.85,262.11 L248.83,261.94 L249.81,261.79 L250.76,261.65 L251.64,261.54 L252.41,261.44 L253.01,261.38" fill="none" stroke="#FF0000" stroke-width="1.7" stroke-linejoin="round" stroke-linecap="round"/>
<path d="M81.80,383.70 L82.40,383.70 L83.17,383.70 L84.06,383.70 L85.02,383.69 L86.01,383.69 L87.01,383.69 L88.01,383.69 L89.01,383.68 L90.02,383.68 L91.02,383.67 L92.02,383.67 L93.02,383.66 L94.02,383.66 L95.02,383.65 L96.03,383.64 L97.03,383.64 L98.03,383.63 L99.03,383.62 L100.03,383.61 L101.03,383.60 L102.04,383.59 L103.04,383.59 L104.04,383.57 L105.04,383.56 L106.04,383.55 L107.04,383.54 L108.05,383.53 L109.05,383.52 L110.05,383.51 L111.05,383.49 L112.05,383.48 L113.05,383.47 L114.06,383.45 L115.06,383.44 L116.06,383.43 L117.06,383.41 L118.06,383.40 L119.06,383.38 L120.07,383.37 L121.07,383.35 L122.07,383.33 L123.07,383.32 L124.07,383.30 L125.07,383.29 L126.08,383.27 L127.08,383.25 L128.08,383.23 L129.08,383.21 L130.08,383.19 L131.08,383.17 L132.09,383.15 L133.09,383.12 L134.09,383.09 L135.09,383.06 L136.09,383.03 L137.09,382.99 L138.09,382.95 L139.09,382.91 L140.09,382.86 L141.09,382.81 L142.09,382.76 L143.09,382.71 L144.10,382.66 L145.10,382.60 L146.10,382.54 L147.10,382.48 L148.10,382.42 L149.09,382.36 L150.09,382.29 L151.09,382.22 L152.09,382.16 L153.09,382.09 L154.09,382.02 L155.09,381.95 L156.09,381.87 L157.09,381.80 L158.09,381.73 L159.09,381.65 L160.09,381.58 L161.09,381.50 L162.08,381.42 L163.08,381.35 L164.08,381.27 L165.08,381.19 L166.08,381.11 L167.08,381.03 L168.08,380.95 L169.07,380.86 L170.07,380.77 L171.07,380.67 L172.06,380.56 L173.06,380.44 L174.05,380.31 L175.04,380.16 L176.03,379.99 L177.01,379.79 L177.98,379.56 L178.95,379.31 L179.91,379.03 L180.86,378.72 L181.80,378.39 L182.74,378.04 L183.67,377.66 L184.58,377.26 L185.49,376.84 L186.38,376.38 L187.25,375.89 L188.10,375.37 L188.94,374.82 L189.75,374.25 L190.55,373.64 L191.32,373.01 L192.05,372.34 L192.76,371.63 L193.43,370.89 L194.05,370.12 L194.64,369.31 L195.19,368.48 L195.73,367.64 L196.24,366.78 L196.76,365.92 L197.27,365.06 L197.77,364.19 L198.27,363.32 L198.76,362.45 L199.24,361.57 L199.70,360.68 L200.16,359.79 L200.59,358.89 L201.01,357.98 L201.41,357.06 L201.80,356.14 L202.17,355.21 L202.53,354.28 L202.88,353.34 L203.22,352.40 L203.56,351.45 L203.88,350.50 L204.21,349.56 L204.53,348.61 L204.85,347.66 L205.16,346.71 L205.47,345.76 L205.78,344.80 L206.09,343.85 L206.39,342.89 L206.69,341.94 L206.98,340.98 L207.26,340.02 L207.55,339.06 L207.82,338.09 L208.09,337.13 L208.36,336.16 L208.62,335.20 L208.87,334.23 L209.12,333.26 L209.36,332.29 L209.60,331.31 L209.83,330.34 L210.07,329.36 L210.30,328.39 L210.53,327.41 L210.76,326.44 L210.99,325.46 L211.22,324.49 L211.45,323.51 L211.67,322.54 L211.90,321.56 L212.12,320.59 L212.35,319.61 L212.57,318.63 L212.79,317.66 L213.02,316.68 L213.24,315.70 L213.47,314.73 L213.70,313.75 L213.93,312.78 L214.17,311.81 L214.42,310.84 L214.67,309.87 L214.93,308.90 L215.20,307.94 L215.48,306.97 L215.76,306.01 L216.05,305.05 L216.34,304.09 L216.64,303.14 L216.95,302.18 L217.26,301.23 L217.57,300.28 L217.89,299.33 L218.21,298.38 L218.54,297.43 L218.86,296.49 L219.19,295.54 L219.52,294.59 L219.84,293.65 L220.17,292.70 L220.50,291.75 L220.83,290.81 L221.17,289.86 L221.51,288.92 L221.85,287.98 L222.21,287.05 L222.58,286.12 L222.96,285.19 L223.36,284.27 L223.77,283.36 L224.19,282.45 L224.63,281.55 L225.08,280.65 L225.54,279.76 L226.01,278.88 L226.49,278.00 L226.98,277.13 L227.48,276.26 L228.00,275.40 L228.52,274.55 L229.06,273.71 L229.61,272.87 L230.17,272.04 L230.75,271.22 L231.34,270.42 L231.96,269.64 L232.61,268.89 L233.31,268.18 L234.05,267.52 L234.83,266.90 L235.65,266.33 L236.50,265.81 L237.37,265.33 L238.27,264.90 L239.18,264.50 L240.11,264.14 L241.06,263.80 L242.01,263.49 L242.97,263.21 L243.93,262.95 L244.91,262.72 L245.88,262.50 L246.87,262.30 L247.85,262.11 L248.83,261.94 L249.81,261.79 L250.76,261.65 L251.64,261.54 L252.41,261.44 L253.01,261.38" fill="none" stroke="#FF0000" stroke-width="1.7" stroke-linejoin="round" stroke-linecap="round"/>
<path d="M81.80,412.43 L82.40,412.45 L83.17,412.47 L84.06,412.50 L85.02,412.52 L86.01,412.55 L87.01,412.57 L88.01,412.60 L89.01,412.62 L90.01,412.64 L91.01,412.66 L92.01,412.68 L93.02,412.69 L94.02,412.71 L95.02,412.72 L96.02,412.73 L97.02,412.74 L98.02,412.75 L99.03,412.76 L100.03,412.77 L101.03,412.77 L102.03,412.78 L103.03,412.79 L104.03,412.79 L105.04,412.79 L106.04,412.79 L107.04,412.80 L108.04,412.80 L109.04,412.80 L110.04,412.80 L111.05,412.79 L112.05,412.79 L113.05,412.78 L114.05,412.77 L115.05,412.76 L116.05,412.74 L117.05,412.72 L118.06,412.70 L119.06,412.68 L120.06,412.66 L121.06,412.63 L122.06,412.60 L123.06,412.57 L124.06,412.54 L125.06,412.51 L126.07,412.47 L127.07,412.44 L128.07,412.40 L129.07,412.36 L130.07,412.32 L131.07,412.28 L132.07,412.24 L133.07,412.20 L134.07,412.16 L135.07,412.11 L136.07,412.07 L137.08,412.03 L138.08,411.98 L139.08,411.94 L140.08,411.90 L141.08,411.85 L142.08,411.81 L143.08,411.76 L144.08,411.71 L145.08,411.66 L146.08,411.61 L147.08,411.56 L148.08,411.51 L149.08,411.45 L150.08,411.39 L151.08,411.32 L152.08,411.26 L153.08,411.19 L154.08,411.11 L155.08,411.04 L156.07,410.95 L157.07,410.87 L158.07,410.78 L159.07,410.68 L160.06,410.58 L161.06,410.47 L162.05,410.35 L163.05,410.23 L164.04,410.09 L165.03,409.94 L166.01,409.75 L166.99,409.54 L167.95,409.29 L168.91,409.01 L169.87,408.71 L170.81,408.39 L171.75,408.04 L172.69,407.69 L173.62,407.32 L174.55,406.94 L175.47,406.54 L176.38,406.13 L177.28,405.69 L178.16,405.23 L179.04,404.74 L179.89,404.23 L180.73,403.68 L181.55,403.11 L182.34,402.51 L183.11,401.87 L183.86,401.21 L184.59,400.52 L185.29,399.81 L185.98,399.08 L186.64,398.33 L187.29,397.57 L187.92,396.79 L188.52,396.00 L189.11,395.19 L189.69,394.37 L190.25,393.54 L190.79,392.70 L191.32,391.85 L191.84,390.99 L192.34,390.12 L192.82,389.25 L193.29,388.36 L193.75,387.47 L194.20,386.58 L194.64,385.68 L195.07,384.77 L195.49,383.87 L195.91,382.96 L196.32,382.04 L196.73,381.13 L197.13,380.21 L197.52,379.29 L197.91,378.37 L198.30,377.44 L198.69,376.52 L199.08,375.60 L199.48,374.68 L199.88,373.76 L200.27,372.84 L200.67,371.92 L201.07,371.00 L201.46,370.08 L201.85,369.16 L202.23,368.23 L202.61,367.30 L202.99,366.38 L203.36,365.45 L203.73,364.51 L204.08,363.58 L204.43,362.64 L204.77,361.70 L205.09,360.75 L205.41,359.80 L205.71,358.84 L206.01,357.89 L206.29,356.93 L206.57,355.96 L206.84,355.00 L207.10,354.03 L207.36,353.06 L207.61,352.10 L207.85,351.12 L208.09,350.15 L208.33,349.18 L208.55,348.20 L208.78,347.23 L208.99,346.25 L209.20,345.27 L209.40,344.29 L209.60,343.31 L209.80,342.32 L209.99,341.34 L210.18,340.36 L210.37,339.37 L210.57,338.39 L210.76,337.41 L210.96,336.43 L211.15,335.44 L211.35,334.46 L211.55,333.48 L211.75,332.50 L211.95,331.52 L212.15,330.54 L212.35,329.56 L212.56,328.57 L212.76,327.59 L212.96,326.61 L213.17,325.63 L213.37,324.65 L213.58,323.67 L213.79,322.69 L214.00,321.71 L214.20,320.73 L214.41,319.75 L214.62,318.77 L214.83,317.79 L215.04,316.81 L215.26,315.84 L215.47,314.86 L215.69,313.88 L215.91,312.90 L216.13,311.92 L216.35,310.95 L216.58,309.97 L216.81,309.00 L217.05,308.03 L217.29,307.05 L217.53,306.08 L217.77,305.11 L218.02,304.14 L218.27,303.17 L218.53,302.20 L218.78,301.23 L219.04,300.27 L219.30,299.30 L219.57,298.33 L219.83,297.37 L220.10,296.40 L220.37,295.44 L220.64,294.47 L220.91,293.51 L221.19,292.54 L221.46,291.58 L221.74,290.62 L222.02,289.66 L222.31,288.70 L222.60,287.74 L222.90,286.78 L223.21,285.83 L223.54,284.89 L223.87,283.94 L224.22,283.01 L224.59,282.07 L224.97,281.15 L225.37,280.23 L225.80,279.33 L226.24,278.43 L226.71,277.55 L227.20,276.68 L227.71,275.81 L228.24,274.96 L228.78,274.12 L229.33,273.28 L229.89,272.45 L230.46,271.63 L231.04,270.82 L231.65,270.02 L232.28,269.26 L232.96,268.53 L233.68,267.84 L234.44,267.20 L235.24,266.61 L236.07,266.07 L236.93,265.57 L237.82,265.11 L238.72,264.69 L239.65,264.31 L240.59,263.96 L241.53,263.64 L242.49,263.35 L243.45,263.08 L244.42,262.83 L245.40,262.61 L246.37,262.40 L247.36,262.20 L248.34,262.03 L249.32,261.86 L250.29,261.72 L251.21,261.59 L252.05,261.49 L252.73,261.41" fill="none" stroke="#FF0000" stroke-width="1.7" stroke-linejoin="round" stroke-linecap="round"/>
<line x1="322.70" y1="10.00" x2="322.70" y2="191.75" stroke="#262626" stroke-width="1.1" />
<line x1="322.15" y1="191.20" x2="535.98" y2="191.20" stroke="#262626" stroke-width="1.1" />
<line x1="322.70" y1="191.20" x2="326.30" y2="191.20" stroke="#262626" stroke-width="1.1" />
<line x1="322.70" y1="145.90" x2="326.30" y2="145.90" stroke="#262626" stroke-width="1.1" />
<line x1="322.70" y1="100.60" x2="326.30" y2="100.60" stroke="#262626" stroke-width="1.1" />
<line x1="322.70" y1="55.30" x2="326.30" y2="55.30" stroke="#262626" stroke-width="1.1" />
<line x1="322.70" y1="10.00" x2="326.30" y2="10.00" stroke="#262626" stroke-width="1.1" />
<line x1="322.70" y1="168.55" x2="324.70" y2="168.55" stroke="#262626" stroke-width="1.1" />
<line x1="322.70" y1="123.25" x2="324.70" y2="123.25" stroke="#262626" stroke-width="1.1" />
<line x1="322.70" y1="77.95" x2="324.70" y2="77.95" stroke="#262626" stroke-width="1.1" />
<line x1="322.70" y1="32.65" x2="324.70" y2="32.65" stroke="#262626" stroke-width="1.1" />
<line x1="376.02" y1="191.20" x2="376.02" y2="187.60" stroke="#262626" stroke-width="1.1" />
<line x1="429.34" y1="191.20" x2="429.34" y2="187.60" stroke="#262626" stroke-width="1.1" />
<line x1="482.66" y1="191.20" x2="482.66" y2="187.60" stroke="#262626" stroke-width="1.1" />
<line x1="535.98" y1="191.20" x2="535.98" y2="187.60" stroke="#262626" stroke-width="1.1" />
<line x1="349.36" y1="191.20" x2="349.36" y2="189.20" stroke="#262626" stroke-width="1.1" />
<line x1="402.68" y1="191.20" x2="402.68" y2="189.20" stroke="#262626" stroke-width="1.1" />
<line x1="456.00" y1="191.20" x2="456.00" y2="189.20" stroke="#262626" stroke-width="1.1" />
<line x1="509.32" y1="191.20" x2="509.32" y2="189.20" stroke="#262626" stroke-width="1.1" />
<line x1="331.2" y1="132.5" x2="492.6" y2="16.0" stroke="#808000" stroke-width="1.3" stroke-dasharray="4.3 2.2 1.5 2.2"/>
<line x1="341.2" y1="145.5" x2="503.3" y2="18.5" stroke="#008000" stroke-width="1.3" stroke-dasharray="4.3 2.2 1.5 2.2"/>
<line x1="348.1" y1="153.0" x2="506.8" y2="21.1" stroke="#008080" stroke-width="1.3" stroke-dasharray="4.3 2.2 1.5 2.2"/>
<line x1="349.1" y1="155.2" x2="506.5" y2="22.2" stroke="#00FFFF" stroke-width="1.3" stroke-dasharray="4.3 2.2 1.5 2.2"/>
<line x1="349.5" y1="157.5" x2="506.3" y2="23.2" stroke="#00FF00" stroke-width="1.3" stroke-dasharray="4.3 2.2 1.5 2.2"/>
<line x1="350.9" y1="160.4" x2="506.3" y2="24.6" stroke="#0000FF" stroke-width="1.3" stroke-dasharray="4.3 2.2 1.5 2.2"/>
<rect x="387.00" y="89.40" width="3.8" height="3.8" fill="#808000"/>
<rect x="403.50" y="77.70" width="3.8" height="3.8" fill="#808000"/>
<rect x="430.80" y="58.30" width="3.8" height="3.8" fill="#808000"/>
<rect x="484.90" y="18.70" width="3.8" height="3.8" fill="#808000"/>
<rect x="387.00" y="107.00" width="3.8" height="3.8" fill="#008000"/>
<rect x="403.50" y="94.70" width="3.8" height="3.8" fill="#008000"/>
<rect x="430.80" y="72.80" width="3.8" height="3.8" fill="#008000"/>
<rect x="484.90" y="29.90" width="3.8" height="3.8" fill="#008000"/>
<rect x="387.00" y="116.40" width="3.8" height="3.8" fill="#008080"/>
<rect x="403.50" y="103.30" width="3.8" height="3.8" fill="#008080"/>
<rect x="430.80" y="80.80" width="3.8" height="3.8" fill="#008080"/>
<rect x="484.90" y="34.20" width="3.8" height="3.8" fill="#008080"/>
<rect x="387.00" y="119.70" width="3.8" height="3.8" fill="#00FFFF"/>
<rect x="403.50" y="105.90" width="3.8" height="3.8" fill="#00FFFF"/>
<rect x="430.80" y="83.20" width="3.8" height="3.8" fill="#00FFFF"/>
<rect x="484.90" y="35.50" width="3.8" height="3.8" fill="#00FFFF"/>
<rect x="387.00" y="122.70" width="3.8" height="3.8" fill="#00FF00"/>
<rect x="403.50" y="108.90" width="3.8" height="3.8" fill="#00FF00"/>
<rect x="430.80" y="84.60" width="3.8" height="3.8" fill="#00FF00"/>
<rect x="484.90" y="37.60" width="3.8" height="3.8" fill="#00FF00"/>
<rect x="387.00" y="125.70" width="3.8" height="3.8" fill="#0000FF"/>
<rect x="403.50" y="111.50" width="3.8" height="3.8" fill="#0000FF"/>
<rect x="430.80" y="87.20" width="3.8" height="3.8" fill="#0000FF"/>
<rect x="484.90" y="39.40" width="3.8" height="3.8" fill="#0000FF"/>
<line x1="490.50" y1="116.00" x2="490.50" y2="170.40" stroke="#222" stroke-width="1" />
<path d="M488.9,169.4 L492.1,169.4 L490.5,173.4 Z" fill="#222"/>
<rect x="495.10" y="114.90" width="3.6" height="3.6" fill="#808000"/>
<rect x="495.10" y="126.10" width="3.6" height="3.6" fill="#008000"/>
<rect x="495.10" y="137.00" width="3.6" height="3.6" fill="#008080"/>
<rect x="495.10" y="148.20" width="3.6" height="3.6" fill="#00FFFF"/>
<rect x="495.10" y="159.70" width="3.6" height="3.6" fill="#00FF00"/>
<rect x="495.10" y="170.90" width="3.6" height="3.6" fill="#0000FF"/>
<line x1="322.70" y1="247.80" x2="322.70" y2="431.15" stroke="#262626" stroke-width="1.1" />
<line x1="322.15" y1="430.60" x2="535.98" y2="430.60" stroke="#262626" stroke-width="1.1" />
<line x1="322.70" y1="430.60" x2="326.30" y2="430.60" stroke="#262626" stroke-width="1.1" />
<line x1="322.70" y1="384.90" x2="326.30" y2="384.90" stroke="#262626" stroke-width="1.1" />
<line x1="322.70" y1="339.20" x2="326.30" y2="339.20" stroke="#262626" stroke-width="1.1" />
<line x1="322.70" y1="293.50" x2="326.30" y2="293.50" stroke="#262626" stroke-width="1.1" />
<line x1="322.70" y1="247.80" x2="326.30" y2="247.80" stroke="#262626" stroke-width="1.1" />
<line x1="322.70" y1="407.75" x2="324.70" y2="407.75" stroke="#262626" stroke-width="1.1" />
<line x1="322.70" y1="362.05" x2="324.70" y2="362.05" stroke="#262626" stroke-width="1.1" />
<line x1="322.70" y1="316.35" x2="324.70" y2="316.35" stroke="#262626" stroke-width="1.1" />
<line x1="322.70" y1="270.65" x2="324.70" y2="270.65" stroke="#262626" stroke-width="1.1" />
<line x1="376.02" y1="430.60" x2="376.02" y2="427.00" stroke="#262626" stroke-width="1.1" />
<line x1="429.34" y1="430.60" x2="429.34" y2="427.00" stroke="#262626" stroke-width="1.1" />
<line x1="482.66" y1="430.60" x2="482.66" y2="427.00" stroke="#262626" stroke-width="1.1" />
<line x1="535.98" y1="430.60" x2="535.98" y2="427.00" stroke="#262626" stroke-width="1.1" />
<line x1="349.36" y1="430.60" x2="349.36" y2="428.60" stroke="#262626" stroke-width="1.1" />
<line x1="402.68" y1="430.60" x2="402.68" y2="428.60" stroke="#262626" stroke-width="1.1" />
<line x1="456.00" y1="430.60" x2="456.00" y2="428.60" stroke="#262626" stroke-width="1.1" />
<line x1="509.32" y1="430.60" x2="509.32" y2="428.60" stroke="#262626" stroke-width="1.1" />
<line x1="338.3" y1="352.1" x2="490.5" y2="251.3" stroke="#606060" stroke-width="1.3" stroke-dasharray="4.3 2.2 1.5 2.2"/>
<line x1="347.9" y1="370.4" x2="498.8" y2="259.2" stroke="#A00000" stroke-width="1.3" stroke-dasharray="4.3 2.2 1.5 2.2"/>
<line x1="354.9" y1="381.2" x2="500.7" y2="262.8" stroke="#FF00FF" stroke-width="1.3" stroke-dasharray="4.3 2.2 1.5 2.2"/>
<line x1="358.4" y1="385.0" x2="503.0" y2="264.0" stroke="#A8A8A8" stroke-width="1.3" stroke-dasharray="4.3 2.2 1.5 2.2"/>
<line x1="358.8" y1="387.3" x2="503.5" y2="265.0" stroke="#008080" stroke-width="1.3" stroke-dasharray="4.3 2.2 1.5 2.2"/>
<line x1="360.4" y1="391.2" x2="503.9" y2="266.2" stroke="#8000FF" stroke-width="1.3" stroke-dasharray="4.3 2.2 1.5 2.2"/>
<rect x="387.00" y="315.50" width="3.8" height="3.8" fill="#606060"/>
<rect x="403.50" y="305.00" width="3.8" height="3.8" fill="#606060"/>
<rect x="430.80" y="288.00" width="3.8" height="3.8" fill="#606060"/>
<rect x="484.90" y="252.00" width="3.8" height="3.8" fill="#606060"/>
<rect x="387.00" y="337.60" width="3.8" height="3.8" fill="#A00000"/>
<rect x="403.50" y="325.70" width="3.8" height="3.8" fill="#A00000"/>
<rect x="430.80" y="306.90" width="3.8" height="3.8" fill="#A00000"/>
<rect x="484.90" y="266.50" width="3.8" height="3.8" fill="#A00000"/>
<rect x="387.00" y="350.90" width="3.8" height="3.8" fill="#FF00FF"/>
<rect x="403.50" y="338.20" width="3.8" height="3.8" fill="#FF00FF"/>
<rect x="430.80" y="316.20" width="3.8" height="3.8" fill="#FF00FF"/>
<rect x="484.90" y="272.10" width="3.8" height="3.8" fill="#FF00FF"/>
<rect x="387.00" y="356.40" width="3.8" height="3.8" fill="#A8A8A8"/>
<rect x="403.50" y="343.40" width="3.8" height="3.8" fill="#A8A8A8"/>
<rect x="430.80" y="322.30" width="3.8" height="3.8" fill="#A8A8A8"/>
<rect x="484.90" y="275.70" width="3.8" height="3.8" fill="#A8A8A8"/>
<rect x="387.00" y="359.90" width="3.8" height="3.8" fill="#008080"/>
<rect x="403.50" y="346.60" width="3.8" height="3.8" fill="#008080"/>
<rect x="430.80" y="324.20" width="3.8" height="3.8" fill="#008080"/>
<rect x="484.90" y="277.00" width="3.8" height="3.8" fill="#008080"/>
<rect x="387.00" y="363.60" width="3.8" height="3.8" fill="#8000FF"/>
<rect x="403.50" y="349.80" width="3.8" height="3.8" fill="#8000FF"/>
<rect x="430.80" y="326.10" width="3.8" height="3.8" fill="#8000FF"/>
<rect x="484.90" y="279.30" width="3.8" height="3.8" fill="#8000FF"/>
<line x1="483.20" y1="358.00" x2="483.20" y2="414.00" stroke="#222" stroke-width="1" />
<path d="M481.59999999999997,413 L484.8,413 L483.2,417 Z" fill="#222"/>
<rect x="496.50" y="359.60" width="3.6" height="3.6" fill="#606060"/>
<rect x="496.50" y="370.80" width="3.6" height="3.6" fill="#A00000"/>
<rect x="496.50" y="382.00" width="3.6" height="3.6" fill="#FF00FF"/>
<rect x="496.50" y="393.50" width="3.6" height="3.6" fill="#A8A8A8"/>
<rect x="496.50" y="404.70" width="3.6" height="3.6" fill="#008080"/>
<rect x="496.50" y="415.90" width="3.6" height="3.6" fill="#8000FF"/>
<g fill="#1a1a1a" stroke="#1a1a1a" stroke-width="0.1" stroke-linejoin="round">
<text x="42.60" y="26.60" font-size="10.3" text-anchor="end" >0.0</text>
<text x="42.60" y="66.72" font-size="10.3" text-anchor="end" >-2.0</text>
<text x="42.60" y="105.84" font-size="10.3" text-anchor="end" >-4.0</text>
<text x="42.60" y="144.96" font-size="10.3" text-anchor="end" >-6.0</text>
<text x="42.60" y="185.08" font-size="10.3" text-anchor="end" >-8.0</text>
<text x="64.45" y="204.46" font-size="10.3" text-anchor="middle" >0.0</text>
<text x="101.61" y="204.46" font-size="10.3" text-anchor="middle" >0.2</text>
<text x="137.27" y="204.46" font-size="10.3" text-anchor="middle" >0.4</text>
<text x="173.93" y="204.46" font-size="10.3" text-anchor="middle" >0.6</text>
<text x="210.59" y="204.46" font-size="10.3" text-anchor="middle" >0.8</text>
<text x="246.25" y="204.46" font-size="10.3" text-anchor="middle" >1.0</text>
<text x="132.15" y="221.35" font-size="10.8" text-anchor="start" ><tspan font-style="italic">E</tspan> (V) <tspan font-style="italic">vs.</tspan> RHE</text>
<text transform="translate(18.50,105.20) rotate(-90)" text-anchor="middle" font-size="11" ><tspan font-style="italic">j</tspan> (mA cm<tspan font-size="8.8" dy="-6.3">-2</tspan><tspan dy="6.3">)</tspan></text>
<text x="55.75" y="25.80" font-size="19" text-anchor="start" >(a)</text>
<text x="105.50" y="21.25" font-size="9.3" text-anchor="start" >ORR / 0.1 M HClO<tspan font-size="6.5" dy="2.5">4</tspan></text>
<text x="89.55" y="38.75" font-size="9.5" text-anchor="start" >rpm</text>
<text x="88.80" y="50.80" font-size="9.5" text-anchor="start" >100</text>
<text x="89.75" y="79.80" font-size="9.5" text-anchor="start" >400</text>
<text x="89.00" y="109.00" font-size="9.5" text-anchor="start" >900</text>
<text x="85.90" y="136.75" font-size="9.5" text-anchor="start" >1600</text>
<text x="86.10" y="164.55" font-size="9.5" text-anchor="start" >2500</text>
<text x="204.65" y="168.20" font-size="9.6" text-anchor="start" >Pt/GC</text>
<text x="205.15" y="180.25" font-size="10" text-anchor="start" >E<tspan font-size="7.6" dy="3.0">dep</tspan><tspan dy="-3.0" font-size="9.3"> = 0.22 V</tspan></text>
<text x="42.60" y="266.00" font-size="10.3" text-anchor="end" >0.0</text>
<text x="42.60" y="305.20" font-size="10.3" text-anchor="end" >-2.0</text>
<text x="42.60" y="345.40" font-size="10.3" text-anchor="end" >-4.0</text>
<text x="42.60" y="384.60" font-size="10.3" text-anchor="end" >-6.0</text>
<text x="42.60" y="424.80" font-size="10.3" text-anchor="end" >-8.0</text>
<text x="64.45" y="443.98" font-size="10.3" text-anchor="middle" >0.0</text>
<text x="101.61" y="443.98" font-size="10.3" text-anchor="middle" >0.2</text>
<text x="137.27" y="443.98" font-size="10.3" text-anchor="middle" >0.4</text>
<text x="173.93" y="443.98" font-size="10.3" text-anchor="middle" >0.6</text>
<text x="210.59" y="443.98" font-size="10.3" text-anchor="middle" >0.8</text>
<text x="246.25" y="443.98" font-size="10.3" text-anchor="middle" >1.0</text>
<text x="134.75" y="457.90" font-size="10.8" text-anchor="start" ><tspan font-style="italic">E</tspan> (V) <tspan font-style="italic">vs.</tspan> RHE</text>
<text transform="translate(18.50,346.50) rotate(-90)" text-anchor="middle" font-size="11" ><tspan font-style="italic">j</tspan> (mA cm<tspan font-size="8.8" dy="-6.3">-2</tspan><tspan dy="6.3">)</tspan></text>
<text x="56.25" y="265.20" font-size="19" text-anchor="start" >(c)</text>
<text x="98.10" y="277.70" font-size="9.5" text-anchor="start" >rpm</text>
<text x="98.10" y="290.90" font-size="9.5" text-anchor="start" >100</text>
<text x="97.60" y="319.15" font-size="9.5" text-anchor="start" >400</text>
<text x="96.55" y="348.70" font-size="9.5" text-anchor="start" >900</text>
<text x="94.10" y="378.15" font-size="9.5" text-anchor="start" >1600</text>
<text x="92.50" y="405.75" font-size="9.5" text-anchor="start" >2500</text>
<text x="221.35" y="420.25" font-size="9.5" text-anchor="start" >PdPt<tspan font-size="6.8" dy="3.2">2</tspan><tspan dy="-3.2">/GC</tspan></text>
<text x="319.10" y="194.40" font-size="10.0" text-anchor="end" >0.0</text>
<text x="319.10" y="149.60" font-size="10.0" text-anchor="end" >0.1</text>
<text x="319.10" y="103.80" font-size="10.0" text-anchor="end" >0.2</text>
<text x="319.10" y="59.00" font-size="10.0" text-anchor="end" >0.3</text>
<text x="319.10" y="13.20" font-size="10.0" text-anchor="end" >0.4</text>
<text x="322.70" y="204.00" font-size="10.0" text-anchor="middle" >0.00</text>
<text x="376.12" y="204.00" font-size="10.0" text-anchor="middle" >0.05</text>
<text x="429.04" y="204.00" font-size="10.0" text-anchor="middle" >0.10</text>
<text x="482.96" y="204.00" font-size="10.0" text-anchor="middle" >0.15</text>
<text x="535.88" y="204.00" font-size="10.0" text-anchor="middle" >0.20</text>
<text x="393.15" y="217.45" font-size="10.5" text-anchor="start" ><tspan font-size="9">&#969;</tspan><tspan font-size="8" dy="-5">-1/2</tspan><tspan dy="5">(rad s</tspan><tspan font-size="8" dy="-5">-1</tspan><tspan dy="5">)</tspan><tspan font-size="8" dy="-5">-1/2</tspan></text>
<text transform="translate(298.00,104.00) rotate(-90)" text-anchor="middle" font-size="10.5" ><tspan font-style="italic">j</tspan><tspan font-size="8" dy="-5">-1</tspan><tspan dy="5">(mA cm</tspan><tspan font-size="8" dy="-5">-2</tspan><tspan dy="5">)</tspan><tspan font-size="8" dy="-5">-1</tspan></text>
<text x="330.00" y="27.50" font-size="19" text-anchor="start" >(b)</text>
<text x="437.65" y="104.20" font-size="9" text-anchor="start" >n = 4</text>
<text x="507.75" y="119.90" font-size="8.6" text-anchor="start" >0.795</text>
<text x="508.25" y="131.10" font-size="8.6" text-anchor="start" >0.770</text>
<text x="507.75" y="141.50" font-size="8.6" text-anchor="start" >0.745</text>
<text x="508.25" y="152.70" font-size="8.6" text-anchor="start" >0.720</text>
<text x="507.75" y="164.70" font-size="8.6" text-anchor="start" >0.695</text>
<text x="508.25" y="175.90" font-size="8.6" text-anchor="start" >0.670</text>
<text x="499.65" y="109.00" font-size="8.6" text-anchor="start" >E (V)</text>
<text x="319.10" y="433.80" font-size="10.0" text-anchor="end" >0.0</text>
<text x="319.10" y="388.60" font-size="10.0" text-anchor="end" >0.1</text>
<text x="319.10" y="342.40" font-size="10.0" text-anchor="end" >0.2</text>
<text x="319.10" y="297.20" font-size="10.0" text-anchor="end" >0.3</text>
<text x="319.10" y="251.00" font-size="10.0" text-anchor="end" >0.4</text>
<text x="322.70" y="443.90" font-size="10.0" text-anchor="middle" >0.00</text>
<text x="376.12" y="443.90" font-size="10.0" text-anchor="middle" >0.05</text>
<text x="429.04" y="443.90" font-size="10.0" text-anchor="middle" >0.10</text>
<text x="482.96" y="443.90" font-size="10.0" text-anchor="middle" >0.15</text>
<text x="535.88" y="443.90" font-size="10.0" text-anchor="middle" >0.20</text>
<text x="398.65" y="461.20" font-size="10.5" text-anchor="start" ><tspan font-size="9">&#969;</tspan><tspan font-size="8" dy="-5">-1/2</tspan><tspan dy="5">(rad s</tspan><tspan font-size="8" dy="-5">-1</tspan><tspan dy="5">)</tspan><tspan font-size="8" dy="-5">-1/2</tspan></text>
<text transform="translate(298.00,345.70) rotate(-90)" text-anchor="middle" font-size="10.5" ><tspan font-style="italic">j</tspan><tspan font-size="8" dy="-5">-1</tspan><tspan dy="5">(mA cm</tspan><tspan font-size="8" dy="-5">-2</tspan><tspan dy="5">)</tspan><tspan font-size="8" dy="-5">-1</tspan></text>
<text x="328.55" y="264.75" font-size="19" text-anchor="start" >(d)</text>
<text x="450.55" y="327.85" font-size="9" text-anchor="start" >n = 4</text>
<text x="509.50" y="364.10" font-size="8.6" text-anchor="start" >0.795</text>
<text x="509.50" y="375.30" font-size="8.6" text-anchor="start" >0.770</text>
<text x="509.50" y="386.50" font-size="8.6" text-anchor="start" >0.745</text>
<text x="509.50" y="398.50" font-size="8.6" text-anchor="start" >0.720</text>
<text x="509.50" y="409.70" font-size="8.6" text-anchor="start" >0.695</text>
<text x="509.50" y="420.90" font-size="8.6" text-anchor="start" >0.670</text>
<text x="503.40" y="352.35" font-size="8.6" text-anchor="start" >E (V)</text>
</g></svg>
</body></html>
